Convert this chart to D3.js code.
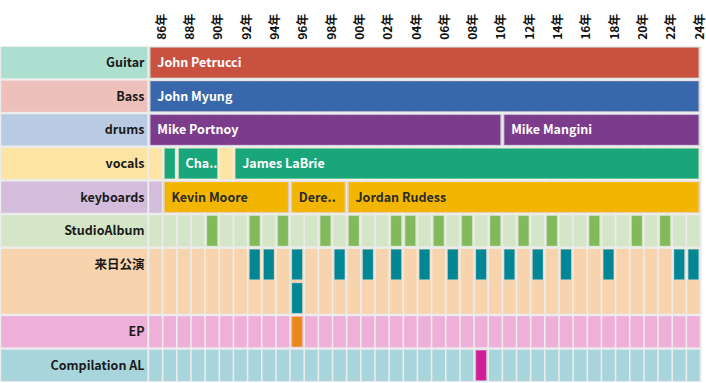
<!DOCTYPE html>
<html><head><meta charset="utf-8">
<script src="https://cdn.jsdelivr.net/npm/d3@7"></script>
<style>
html,body{margin:0;padding:0;background:#fff;}
svg{display:block;font-family:"Noto Sans CJK JP","Noto Sans",sans-serif;}
</style></head><body>
<svg id="chart" width="706" height="383"></svg>
<script>
// ---- data ----
const rowNames = ["Guitar","Bass","drums","vocals","keyboards","StudioAlbum","来日公演","EP","Compilation AL"];
const rowSpans = [1,1,1,1,1,1,2,1,1];
const rowBg  = ["#acdfd0","#edc0bc","#b9cbe2","#fbe4a4","#d4bddc","#d4e6c7","#f7d4ae","#eeb0d8","#a8d5db"];
const rowBar = ["#c9513f","#3967ab","#7d3c8b","#18a67a","#f2b600","#82b95b","#008694","#e8881a","#d01f96"];

const guitarMembers = [["John Petrucci",1985,2024]];
const bassMembers = [["John Myung",1985,2024]];
const drumsMembers = [["Mike Portnoy",1985,2010],["Mike Mangini",2010,2024]];
const vocalsMembers = [["Chris Collins",1986,1987],["Charlie Dominici",1987,1990],["James LaBrie",1991,2024]];
const keyboardsMembers = [["Kevin Moore",1986,1995],["Derek Sherinian",1995,1999],["Jordan Rudess",1999,2024]];

const studioAlbumYears = [1989,1992,1994,1997,1999,2002,2003,2005,2007,2009,2011,2013,2016,2019,2021];
const japanTourYears = [1992,1993,1995,1995,1998,2000,2002,2004,2006,2008,2010,2012,2014,2017,2022,2023];
const epYears = [1995];
const compilationYears = [2008];

const tickYears = [1986,1988,1990,1992,1994,1996,1998,2000,2002,2004,2006,2008,2010,2012,2014,2016,2018,2020,2022,2024];
const tickLabels = ["86年","88年","90年","92年","94年","96年","98年","00年","02年","04年","06年","08年","10年","12年","14年","16年","18年","20年","22年","24年"];
const firstYear = 1985, lastYear = 2024;

// ---- layout ----
const svg = d3.select("#chart");
const x = d3.scaleLinear().domain([firstYear, lastYear]).range([148.5, 700.5]);
const totalSlots = d3.sum(rowSpans);
const slot = d3.scaleLinear().domain([0, totalSlots]).range([45.8, 382.2]);
const rowStart = [];
rowSpans.reduce((acc, s, i) => { rowStart[i] = acc; return acc + s; }, 0);
const FS = 12.5;

// background
svg.append("rect").attr("x", 0).attr("y", slot(0)).attr("width", x(lastYear) + 1.2)
  .attr("height", slot(totalSlots) - slot(0)).attr("fill", "#ececec");

const years = d3.range(firstYear, lastYear);
const cellInsetY = 1.2, cellInsetX = 0.8;
const rows = svg.append("g");
rowNames.forEach((name, i) => {
  const y0 = slot(rowStart[i]), y1 = slot(rowStart[i] + rowSpans[i]);
  const g = rows.append("g");
  g.append("rect").attr("x", 1.2).attr("y", y0 + cellInsetY)
    .attr("width", x(firstYear) - 1.2 - 1.2).attr("height", y1 - y0 - 2 * cellInsetY)
    .attr("fill", rowBg[i]);
  g.selectAll("rect.cell").data(years).join("rect").attr("class", "cell")
    .attr("x", d => x(d) + cellInsetX).attr("y", y0 + cellInsetY)
    .attr("width", d => x(d + 1) - x(d) - 2 * cellInsetX).attr("height", y1 - y0 - 2 * cellInsetY)
    .attr("fill", rowBg[i]);
  g.append("text").attr("x", x(firstYear) - 4)
    .attr("y", (slot(rowStart[i]) + slot(rowStart[i] + 1)) / 2).attr("dy", "0.35em")
    .attr("text-anchor", "end").attr("font-size", FS).attr("font-weight", 700)
    .attr("fill", "#1a1a1a").text(name);
});

// member bars
const barPadX = 1.8, barPadY = 1.6;
const memberRows = [guitarMembers, bassMembers, drumsMembers, vocalsMembers, keyboardsMembers];
memberRows.forEach((list, i) => {
  const y0 = slot(rowStart[i]), y1 = slot(rowStart[i] + 1);
  const g = svg.append("g");
  list.forEach(([name, s, e]) => {
    const bx = x(s) + barPadX, bw = x(e) - x(s) - 2 * barPadX;
    g.append("rect").attr("x", bx).attr("y", y0 + barPadY).attr("width", bw)
      .attr("height", y1 - y0 - 2 * barPadY).attr("fill", rowBar[i])
      .attr("stroke", "rgba(255,255,255,0.25)").attr("stroke-width", 1);
    const t = g.append("text").attr("x", bx + 7).attr("y", (y0 + y1) / 2).attr("dy", "0.35em")
      .attr("font-size", FS).attr("font-weight", 700)
      .attr("fill", rowBar[i] === "#f2b600" ? "#2a2a2a" : "#ffffff").text(name);
    const avail = bw * 0.83;
    if (t.node().getComputedTextLength() > avail) {
      let n = name.length;
      while (n > 0) {
        t.text(name.slice(0, n) + "..");
        if (t.node().getComputedTextLength() <= avail) break;
        n--;
      }
      if (n === 0) t.text("");
    }
  });
});

// event bars
const eventRows = [[5, studioAlbumYears], [6, japanTourYears], [7, epYears], [8, compilationYears]];
eventRows.forEach(([i, list]) => {
  const count = {};
  const items = list.map(yr => { const k = count[yr] || 0; count[yr] = k + 1; return {yr, k}; });
  svg.append("g").selectAll("rect").data(items).join("rect")
    .attr("x", d => x(d.yr) + barPadX)
    .attr("y", d => slot(rowStart[i] + d.k) + barPadY)
    .attr("width", d => x(d.yr + 1) - x(d.yr) - 2 * barPadX)
    .attr("height", d => slot(rowStart[i] + d.k + 1) - slot(rowStart[i] + d.k) - 2 * barPadY)
    .attr("fill", rowBar[i])
    .attr("stroke", "rgba(255,255,255,0.25)").attr("stroke-width", 1);
});

// top axis
const axis = d3.axisTop(x).tickValues(tickYears).tickFormat((d, i) => tickLabels[i]).tickSize(0);
const ag = svg.append("g").attr("transform", `translate(0,${slot(0)})`).call(axis);
ag.select(".domain").remove();
ag.selectAll("text").attr("x", 0).attr("y", 0).attr("dy", "0.22em")
  .attr("text-anchor", "start").attr("transform", "translate(0,-6) rotate(-90)")
  .attr("font-size", 12).attr("font-weight", 700).attr("fill", "#111")
  .attr("font-family", '"Noto Sans CJK JP","Noto Sans",sans-serif');
</script>
</body></html>
